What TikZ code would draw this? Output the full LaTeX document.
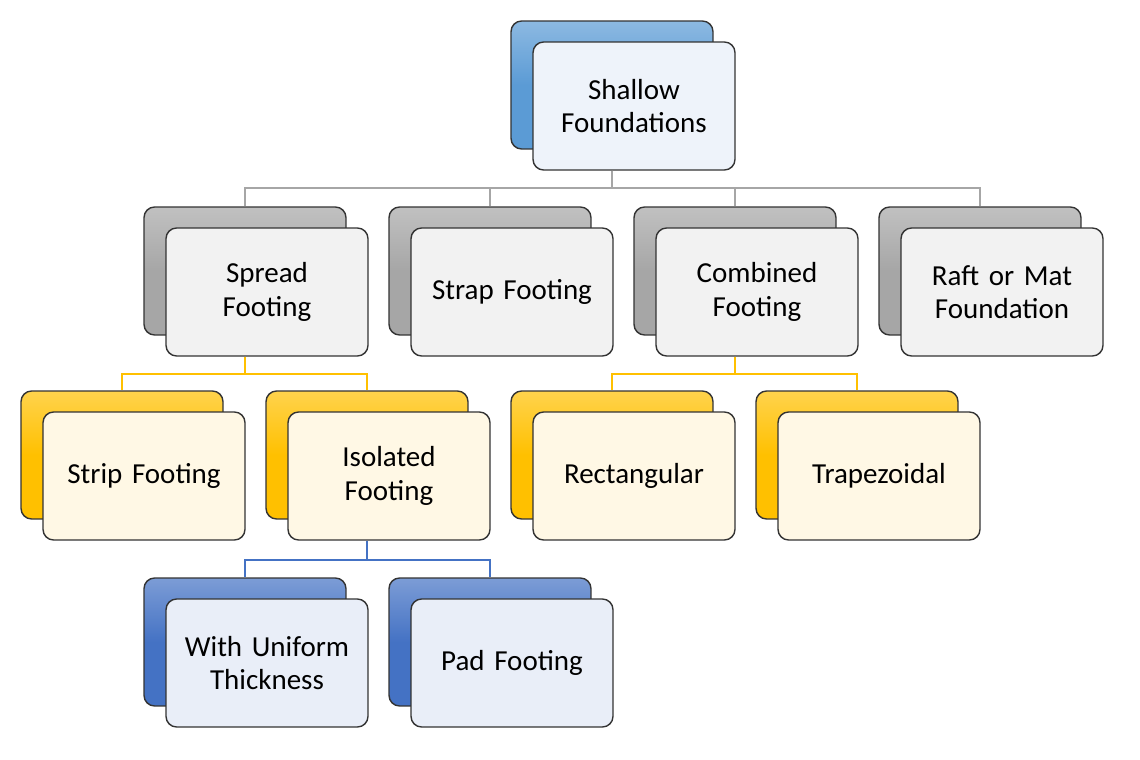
\documentclass[tikz,border=0pt]{standalone}
\usepackage{fontspec}
\setmainfont{Carlito}
\usetikzlibrary{positioning}
\definecolor{topblue}{HTML}{5B9BD5}
\definecolor{topfill}{HTML}{EEF3FA}
\definecolor{midgray}{HTML}{A6A6A6}
\definecolor{midfill}{HTML}{F2F2F2}
\definecolor{gold}{HTML}{FFC000}
\definecolor{goldfill}{HTML}{FFF8E5}
\definecolor{darkblue}{HTML}{4472C4}
\definecolor{bluefill}{HTML}{E9EEF8}
\tikzstyle{back}=[draw=black!80,rounded corners=6pt,minimum width=4.04cm,minimum height=2.56cm,line width=0.8pt]
\tikzstyle{front}=[draw=black!80,rounded corners=6pt,minimum width=4.04cm,minimum height=2.56cm,line width=0.8pt,text width=3.8cm,align=center,font=\fontsize{16.5}{19}\selectfont]
\newcommand{\pair}[6]{%
  \node[back,top color=#4!70!white,bottom color=#4,middle color=#4] (#1b) at (#2,#3) {};
  \node[front,fill=#5] (#1) at (#2+22,#3+21) {#6};}
\begin{document}
\begin{tikzpicture}[x=0.02cm,y=-0.02cm]
    \useasboundingbox (0,0) rectangle (1140,760);
    \pair{shallow}{612}{85}{topblue}{topfill}{Shallow\\Foundations}
    \pair{spread}{245}{271}{midgray}{midfill}{Spread\\Footing}
    \pair{strap}{490}{271}{midgray}{midfill}{Strap Footing}
    \pair{combined}{735}{271}{midgray}{midfill}{Combined\\Footing}
    \pair{raft}{980}{271}{midgray}{midfill}{Raft or Mat\\Foundation}
    \pair{strip}{122}{455}{gold}{goldfill}{Strip Footing}
    \pair{isolated}{367}{455}{gold}{goldfill}{Isolated\\Footing}
    \pair{rect}{612}{455}{gold}{goldfill}{Rectangular}
    \pair{trap}{857}{455}{gold}{goldfill}{Trapezoidal}
    \pair{uniform}{245}{642}{darkblue}{bluefill}{With Uniform\\Thickness}
    \pair{pad}{490}{642}{darkblue}{bluefill}{Pad Footing}
    \coordinate (bus1) at (0,188);
    \coordinate (bus2) at (0,374);
    \coordinate (bus3) at (0,560);
    \foreach \c in {spread,strap,combined,raft}
      \draw[midgray,line width=1pt] (shallowb |- shallow.south) -- (shallowb |- bus1) -| (\c b.north);
    \foreach \c in {strip,isolated}
      \draw[gold,line width=1pt] (spreadb |- spread.south) -- (spreadb |- bus2) -| (\c b.north);
    \foreach \c in {rect,trap}
      \draw[gold,line width=1pt] (combinedb |- combined.south) -- (combinedb |- bus2) -| (\c b.north);
    \foreach \c in {uniform,pad}
      \draw[darkblue,line width=1pt] (isolatedb |- isolated.south) -- (isolatedb |- bus3) -| (\c b.north);
\end{tikzpicture}
\end{document}
